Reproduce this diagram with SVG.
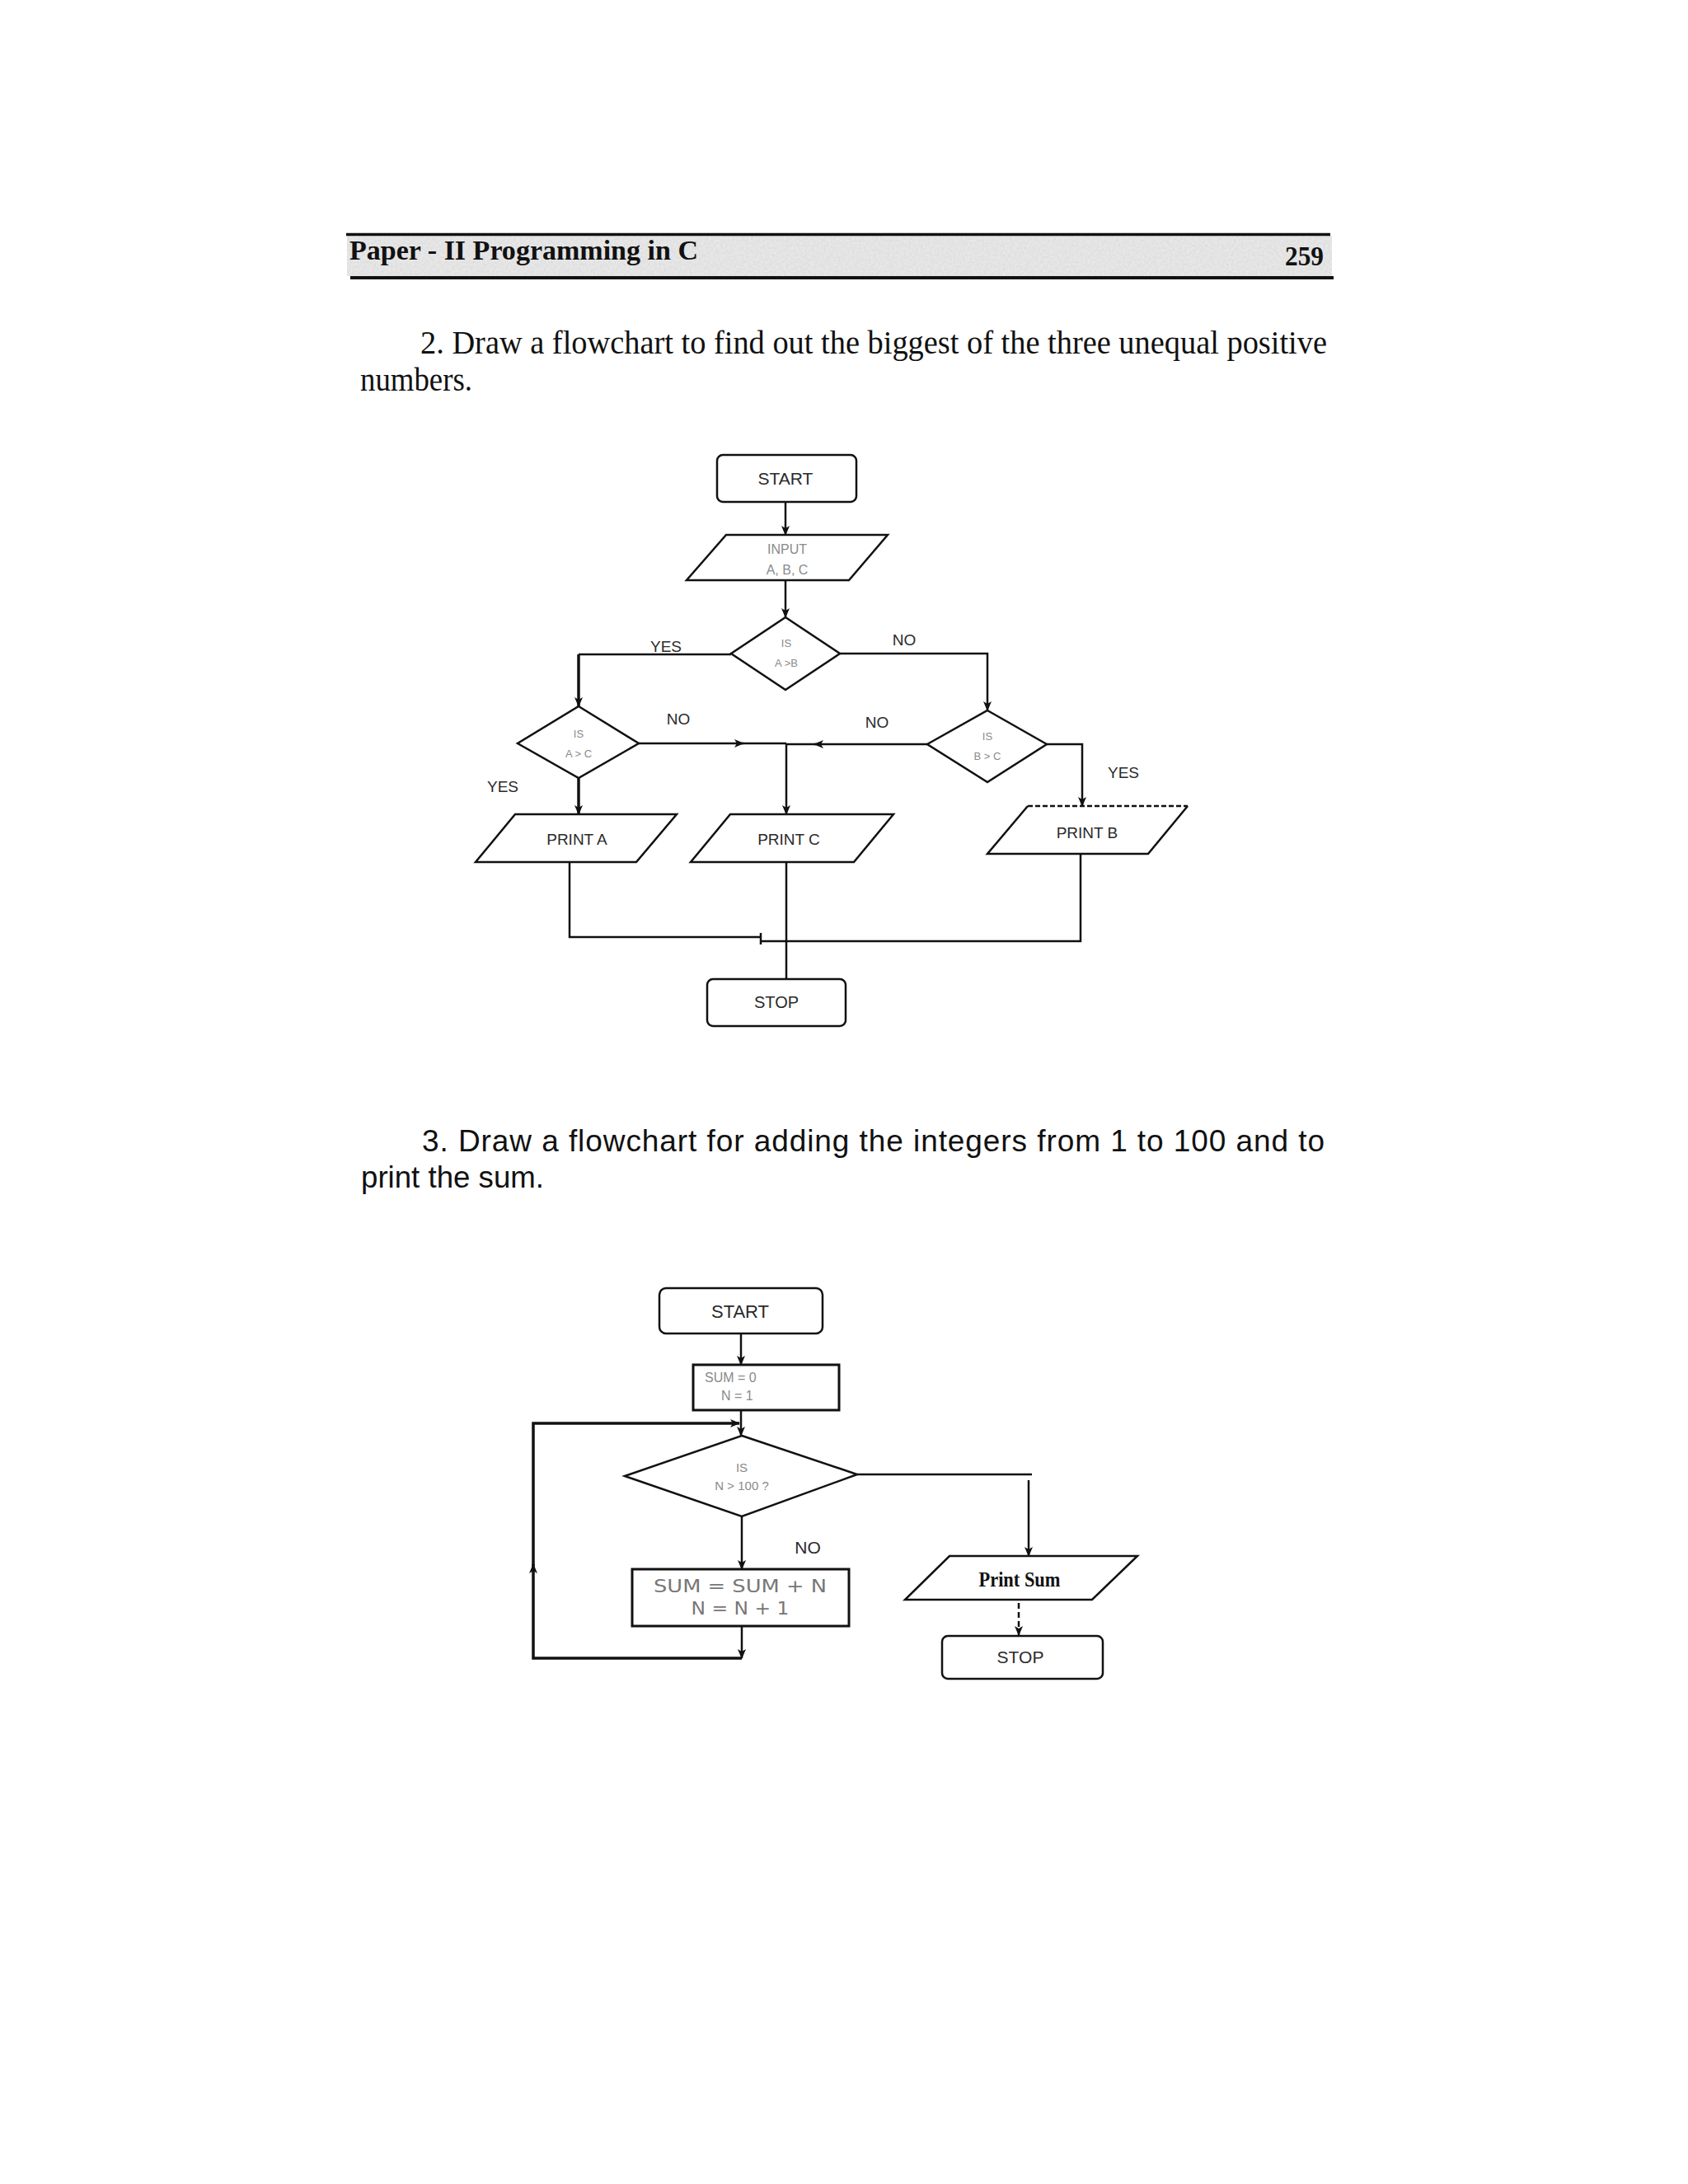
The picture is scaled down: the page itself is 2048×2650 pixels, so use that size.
<svg xmlns="http://www.w3.org/2000/svg" width="2048" height="2650" viewBox="0 0 2048 2650">
<defs>
<marker id="ah" viewBox="0 0 12 10" refX="11" refY="5" markerWidth="12" markerHeight="10" markerUnits="userSpaceOnUse" orient="auto">
<path d="M0,0 L12,5 L0,10 L3,5 z" fill="#111"/>
</marker>
<filter id="grain" x="0" y="0" width="100%" height="100%">
<feTurbulence type="fractalNoise" baseFrequency="0.35" numOctaves="2" seed="3" result="n"/>
<feColorMatrix in="n" type="matrix" values="0 0 0 0 0.55  0 0 0 0 0.55  0 0 0 0 0.55  0 0 0 0.9 -0.25" result="g"/>
<feComposite in="g" in2="SourceGraphic" operator="in"/>
</filter>
</defs>
<style>
.shape{fill:#fff;stroke:#111;stroke-width:2.5}
.box{fill:#fff;stroke:#111;stroke-width:3}
.ln{fill:none;stroke:#111;stroke-width:2.5}
.thick{fill:none;stroke:#111;stroke-width:3.5}
.arr{marker-end:url(#ah)}
.lbl{font-family:"Liberation Sans",Arial,sans-serif;text-anchor:middle}
.dk{fill:#2a2a2a}
.gr{fill:#777}
.lg{fill:#8a8a8a}
.serif{font-family:"Liberation Serif","Times New Roman",serif}
</style>
<rect x="0" y="0" width="2048" height="2650" fill="#fff"/>

<!-- Header -->
<g id="header">
<rect x="421" y="286" width="1195" height="49" fill="#e8e8e8"/>
<rect x="421" y="286" width="1195" height="49" fill="#e8e8e8" filter="url(#grain)" opacity="0.6"/>
<line x1="420" y1="284.5" x2="1614" y2="284.5" stroke="#111" stroke-width="3.5"/>
<line x1="425" y1="337" x2="1618" y2="337" stroke="#111" stroke-width="4"/>
<text x="424" y="315" class="serif" font-weight="bold" font-size="34" fill="#111" textLength="423" lengthAdjust="spacingAndGlyphs">Paper - II Programming in C</text>
<text x="1559" y="322" class="serif" font-weight="bold" font-size="34" fill="#111" textLength="47" lengthAdjust="spacingAndGlyphs">259</text>
</g>

<!-- Question 2 -->
<g id="q2">
<text x="510" y="429" class="serif" font-size="40" fill="#111" textLength="1100" lengthAdjust="spacingAndGlyphs">2.  Draw a flowchart to find out the biggest of the three unequal positive</text>
<text x="437" y="474" class="serif" font-size="40" fill="#111" textLength="136" lengthAdjust="spacingAndGlyphs">numbers.</text>
</g>

<!-- Chart 1 connectors -->
<g id="connectors1">
<path class="ln arr" d="M953 609 V649"/>
<path class="ln arr" d="M953 704 V749"/>
<path class="ln" d="M887 794 H702"/>
<path class="thick arr" d="M702 794 V857"/>
<path class="ln arr" d="M1019 793 H1198 V862"/>
<path class="ln arr" d="M775 902 H902"/>
<path class="ln" d="M900 902 H954"/>
<path class="ln arr" d="M1125 903 H988"/>
<path class="ln" d="M990 903 H954"/>
<path class="ln arr" d="M954 902 V988"/>
<path class="thick arr" d="M702 944 V988"/>
<path class="ln arr" d="M1270 903 H1313 V978"/>
<path class="ln" d="M691 1046 V1137 H923"/>
<path class="ln" d="M923 1132 V1146"/>
<path class="ln" d="M1311 1036 V1142 H923"/>
<path class="ln" d="M954 1046 V1188"/>
</g>

<!-- Chart 1 nodes -->
<g id="start1">
<rect class="shape" x="870" y="552" width="169" height="57" rx="7"/>
<text class="lbl dk" x="953" y="588" font-size="21">START</text>
</g>
<g id="input1">
<polygon class="shape" points="881,649 1077,649 1030,704 833,704"/>
<text class="lbl lg" x="955" y="672" font-size="16">INPUT</text>
<text class="lbl lg" x="955" y="697" font-size="16">A, B, C</text>
</g>
<g id="dec_ab">
<polygon class="shape" points="953,749 1019,793 953,837 887,793"/>
<text class="lbl lg" x="954" y="785" font-size="13">IS</text>
<text class="lbl lg" x="954" y="809" font-size="13">A &gt;B</text>
</g>
<g id="dec_ac">
<polygon class="shape" points="702,857 775,902 702,944 628,902"/>
<text class="lbl lg" x="702" y="895" font-size="13">IS</text>
<text class="lbl lg" x="702" y="919" font-size="13">A &gt; C</text>
</g>
<g id="dec_bc">
<polygon class="shape" points="1198,862 1270,903 1198,949 1125,903"/>
<text class="lbl lg" x="1198" y="898" font-size="13">IS</text>
<text class="lbl lg" x="1198" y="922" font-size="13">B &gt; C</text>
</g>
<g id="printA">
<polygon class="shape" points="625,988 821,988 772,1046 577,1046"/>
<text class="lbl dk" x="700" y="1025" font-size="19">PRINT A</text>
</g>
<g id="printC">
<polygon class="shape" points="886,988 1084,988 1036,1046 838,1046"/>
<text class="lbl dk" x="957" y="1025" font-size="19">PRINT C</text>
</g>
<g id="printB">
<polygon points="1247,978 1441,978 1393,1036 1198,1036" fill="#fff" stroke="none"/>
<path class="ln" d="M1441 978 L1393 1036 H1198 L1247 978"/>
<path d="M1247 978 H1441" fill="none" stroke="#111" stroke-width="2.5" stroke-dasharray="6 3"/>
<text class="lbl dk" x="1319" y="1017" font-size="19">PRINT B</text>
</g>
<g id="stop1">
<rect class="shape" x="858" y="1188" width="168" height="57" rx="7"/>
<text class="lbl dk" x="942" y="1223" font-size="20">STOP</text>
</g>

<!-- Chart 1 labels -->
<g id="labels1" class="lbl dk" font-size="19">
<text x="808" y="791">YES</text>
<text x="1097" y="783">NO</text>
<text x="823" y="879">NO</text>
<text x="1064" y="883">NO</text>
<text x="610" y="961">YES</text>
<text x="1363" y="944">YES</text>
</g>

<!-- Question 3 -->
<g id="q3">
<text x="512" y="1397" font-family="Liberation Sans, Arial, sans-serif" font-size="37" fill="#111" textLength="1095" lengthAdjust="spacing">3.  Draw a flowchart for adding the integers from 1 to 100 and to</text>
<text x="438" y="1441" font-family="Liberation Sans, Arial, sans-serif" font-size="37" fill="#111" textLength="222" lengthAdjust="spacingAndGlyphs">print the sum.</text>
</g>

<!-- Chart 2 connectors -->
<g id="connectors2">
<path class="ln arr" d="M899 1618 V1656"/>
<path class="ln arr" d="M899 1711 V1742"/>
<path class="ln" d="M1040 1789 H1252"/>
<path class="ln arr" d="M1248 1796 V1888"/>
<path class="ln arr" d="M900 1840 V1904"/>
<path class="ln arr" d="M900 1973 V2012"/>
<path class="thick arr" d="M900 2012 H647 V1898"/>
<path class="thick arr" d="M647 1900 V1727 H897"/>
<path class="ln arr" d="M1236 1945 V1984" stroke-dasharray="7 4"/>
</g>

<!-- Chart 2 nodes -->
<g id="start2">
<rect class="shape" x="800" y="1563" width="198" height="55" rx="8"/>
<text class="lbl dk" x="898" y="1599" font-size="22">START</text>
</g>
<g id="init">
<rect class="box" x="841" y="1656" width="177" height="55"/>
<text x="855" y="1677" font-family="Liberation Sans, Arial, sans-serif" font-size="16" class="lg">SUM = 0</text>
<text x="875" y="1699" font-family="Liberation Sans, Arial, sans-serif" font-size="16" class="lg">N = 1</text>
</g>
<g id="dec_n">
<polygon class="shape" points="900,1742 1040,1789 900,1840 758,1791"/>
<text class="lbl lg" x="900" y="1786" font-size="15">IS</text>
<text class="lbl lg" x="900" y="1808" font-size="15">N &gt; 100 ?</text>
</g>
<g id="update">
<rect class="box" x="767" y="1904" width="263" height="69"/>
<text x="898" y="1932" font-family="DejaVu Sans, sans-serif" text-anchor="middle" font-size="21" class="gr" textLength="210" lengthAdjust="spacingAndGlyphs">SUM = SUM + N</text>
<text x="898" y="1959" font-family="DejaVu Sans, sans-serif" text-anchor="middle" font-size="21" class="gr" textLength="119" lengthAdjust="spacingAndGlyphs">N = N + 1</text>
</g>
<g id="printSum">
<polygon class="shape" points="1152,1888 1380,1888 1325,1941 1098,1941"/>
<text x="1237" y="1925" class="serif" font-weight="bold" font-size="25" fill="#111" text-anchor="middle" textLength="99" lengthAdjust="spacingAndGlyphs">Print Sum</text>
</g>
<g id="stop2">
<rect class="shape" x="1143" y="1985" width="195" height="52" rx="7"/>
<text class="lbl dk" x="1238" y="2018" font-size="21">STOP</text>
</g>
<g id="labels2" class="lbl dk" font-size="21">
<text x="980" y="1885">NO</text>
</g>
</svg>
